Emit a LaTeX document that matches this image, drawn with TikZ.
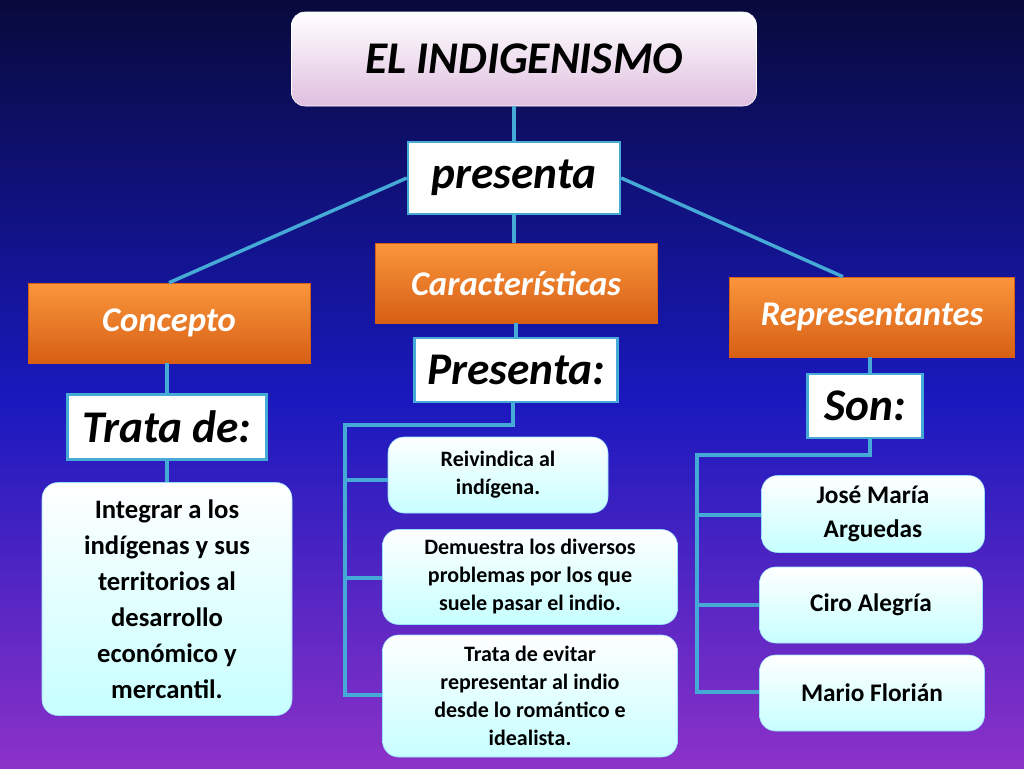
\documentclass[tikz,border=0pt]{standalone}
\usepackage{fontspec}
\setmainfont{Carlito}
\definecolor{bgtop}{RGB}{8,10,60}
\definecolor{bgmid}{RGB}{25,25,190}
\definecolor{bgbot}{RGB}{140,50,200}
\definecolor{lnc}{RGB}{70,170,215}
\definecolor{ortop}{RGB}{250,150,60}
\definecolor{orbot}{RGB}{215,95,20}
\begin{document}
\begin{tikzpicture}[x=0.75pt,y=-0.75pt,
  ln/.style={draw=lnc, line width=2.6pt},
  orng/.style={rectangle, top color=ortop, bottom color=orbot, draw=orbot, text=white, font=\bfseries\itshape\fontsize{26}{30}\selectfont, inner sep=0pt},
  wbox/.style={rectangle, fill=white, draw=lnc, line width=1.8pt, text=black, font=\bfseries\itshape\fontsize{34}{38}\selectfont, inner sep=0pt},
  cbox/.style={rectangle, rounded corners=12pt, top color=white, bottom color=cyan!22!white, draw=cyan!40, text=black, font=\bfseries\fontsize{19}{25}\selectfont, inner sep=0pt, align=center}]
\useasboundingbox (0,0) rectangle (1024,768);
\shade[top color=bgtop, bottom color=bgmid] (0,0) rectangle (1024,400.5);
\shade[top color=bgmid, bottom color=bgbot] (0,400) rectangle (1024,768);
\node[rectangle, rounded corners=10pt, top color=white, bottom color=violet!25!white, draw=white, minimum width=465*0.75pt, minimum height=94*0.75pt, font=\bfseries\itshape\fontsize{34}{38}\selectfont] (t) at (524,59) {EL INDIGENISMO};
\node[wbox, minimum width=212*0.75pt, minimum height=72*0.75pt] (p) at (514,178) {presenta};
\node[orng, minimum width=282*0.75pt, minimum height=80*0.75pt] (con) at (169,323) {Concepto};
\node[orng, minimum width=282*0.75pt, minimum height=80*0.75pt] (car) at (516,283) {Características};
\node[orng, minimum width=285*0.75pt, minimum height=80*0.75pt] (rep) at (872,317) {Representantes};
\node[wbox, minimum width=199*0.75pt, minimum height=65*0.75pt] (tr) at (167,427) {Trata de:};
\node[wbox, minimum width=203*0.75pt, minimum height=64*0.75pt] (pr) at (516,370) {Presenta:};
\node[wbox, minimum width=115*0.75pt, minimum height=64*0.75pt] (son) at (865,406) {Son:};
\node[cbox, minimum width=250*0.75pt, minimum height=233*0.75pt, font=\bfseries\fontsize{20}{27}\selectfont] (big) at (167,599) {Integrar a los\\indígenas y sus\\territorios al\\desarrollo\\económico y\\mercantil.};
\node[cbox, minimum width=220*0.75pt, minimum height=76*0.75pt, font=\bfseries\fontsize{16.5}{21}\selectfont] (b1) at (498,475) {Reivindica al\\indígena.};
\node[cbox, minimum width=295*0.75pt, minimum height=95*0.75pt, font=\bfseries\fontsize{16.5}{21}\selectfont] (b2) at (530,577) {Demuestra los diversos\\problemas por los que\\suele pasar el indio.};
\node[cbox, minimum width=295*0.75pt, minimum height=122*0.75pt, font=\bfseries\fontsize{16.5}{21}\selectfont] (b3) at (530,696) {Trata de evitar\\representar al indio\\desde lo romántico e\\idealista.};
\node[cbox, minimum width=223*0.75pt, minimum height=77*0.75pt] (r1) at (873,514) {José María\\Arguedas};
\node[cbox, minimum width=223*0.75pt, minimum height=76*0.75pt] (r2) at (871,605) {Ciro Alegría};
\node[cbox, minimum width=225*0.75pt, minimum height=76*0.75pt] (r3) at (872,693) {Mario Florián};
\coordinate (c1) at (513,425); \coordinate (c2) at (345,425); \coordinate (c3) at (345,695);
\coordinate (d1) at (870,455); \coordinate (d2) at (697,455); \coordinate (d3) at (697,692);
\draw[ln] (t.south -| p.north) -- (p.north);
\draw[ln] (p.west) -- (con.north);
\draw[ln] (p.east) -- (rep.north -| 843,0);
\draw[ln] (p.south) -- (p.south |- car.north);
\draw[ln] (car.south -| pr.north) -- (pr.north);
\draw[ln] (con.south -| tr.north) -- (tr.north);
\draw[ln] (tr.south) -- (tr.south |- big.north);
\draw[ln] (pr.south -| c1) -- (c1) -- (c2) -- (c3) -- (b3.west |- c3);
\draw[ln] (345,480) -- (b1.west |- 0,480);
\draw[ln] (345,578) -- (b2.west |- 0,578);
\draw[ln] (rep.south -| 870,0) -- (son.north -| 870,0);
\draw[ln] (son.south -| d1) -- (d1) -- (d2) -- (d3) -- (r3.west |- d3);
\draw[ln] (697,515) -- (r1.west |- 0,515);
\draw[ln] (697,605) -- (r2.west |- 0,605);
\end{tikzpicture}
\end{document}
